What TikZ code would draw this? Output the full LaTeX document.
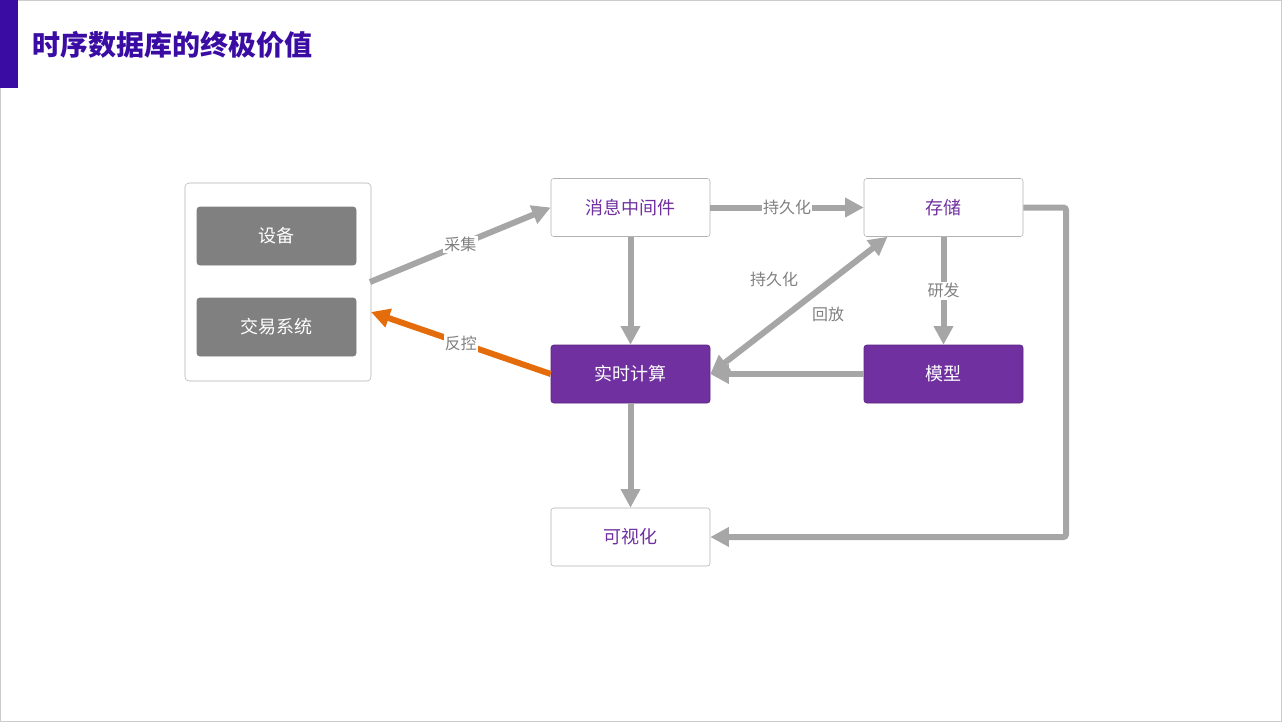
\documentclass[tikz,border=0pt]{standalone}
\usepackage{fontspec}
\setmainfont{Noto Sans CJK SC}
\usetikzlibrary{arrows.meta}
\definecolor{ttl}{HTML}{3A0CA3}
\definecolor{pur}{HTML}{7030A0}
\definecolor{arr}{HTML}{A6A6A6}
\definecolor{org}{HTML}{E46C0A}
\definecolor{dg}{HTML}{808080}
\begin{document}
\begin{tikzpicture}[x=0.75pt,y=-0.75pt,
 box/.style={draw=black!30,rounded corners=2pt,minimum width=119.25pt,minimum height=43.5pt,inner sep=0pt,font=\fontsize{13.5}{15}\selectfont},
 wbox/.style={box,fill=white,text=pur},
 pbox/.style={box,fill=pur,text=white,draw=pur!80!black},
 gbox/.style={box,fill=dg,text=white,draw=dg},
 a/.style={draw=arr,line width=4.5pt,-{Triangle[length=14pt,width=14pt]}},
 lbl/.style={text=dg,font=\fontsize{12}{14}\selectfont,inner sep=1pt}]
\useasboundingbox (0,0) rectangle (1282,722);
\draw[black!20] (0.5,0.5) rectangle (1281.5,721.5);
\fill[ttl] (0,0) rectangle (18,88);
\node[anchor=west,text=ttl,font=\fontsize{21}{24}\selectfont\bfseries] (title) at (28,45) {时序数据库的终极价值};
\draw[black!30,rounded corners=3pt,fill=white] (185,183) rectangle (371,381);
\node[gbox] (dev) at (276.5,236) {设备};
\node[gbox] (trade) at (276.5,327) {交易系统};
\coordinate (gin) at (370,282);
\coordinate (gout) at (371,312);
\node[wbox] (msg) at (630.5,207.5) {消息中间件};
\node[wbox] (sto) at (943.5,207.5) {存储};
\node[pbox] (rt) at (630.5,374) {实时计算};
\node[pbox] (mdl) at (943.5,374) {模型};
\node[wbox] (vis) at (630.5,537) {可视化};
\draw[a] (gin) -- (msg.west) node[lbl,pos=0.5,fill=white] {采集};
\draw[a] (msg.east) -- (sto.west) node[lbl,pos=0.5,fill=white] {持久化};
\draw[a] (msg.south) -- (rt.north);
\draw[a] (sto.south) -- (mdl.north) node[lbl,pos=0.5,fill=white] {研发};
\draw[a] (mdl.west) -- (rt.east);
\draw[a,{Triangle[length=14pt,width=14pt]}-{Triangle[length=14pt,width=14pt]}] (rt.east) -- ([xshift=-42pt]sto.south);
\node[lbl] (l1) at (774,279) {持久化};
\node[lbl] (l2) at (828,314) {回放};
\draw[a] (rt.south) -- (vis.north);
\draw[a,rounded corners=2pt] (sto.east) -- (1066,207.5) -- (1066,537) -- (vis.east);
\draw[a,draw=org] (rt.west) -- (gout) node[lbl,pos=0.5,fill=white] {反控};
\end{tikzpicture}
\end{document}
